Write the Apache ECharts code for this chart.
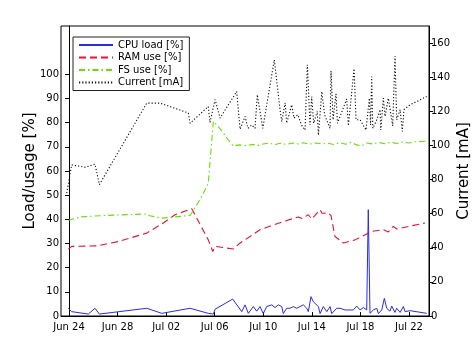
<!DOCTYPE html>
<html><head><meta charset="utf-8">
<script src="https://cdn.jsdelivr.net/npm/echarts@6/dist/echarts.min.js"></script>
<style>html,body{margin:0;padding:0;background:#fff}#c{width:474px;height:355px}</style>
</head><body><div id="c"></div>
<script>
// x values are days since Jun 24
var tickDays = [0, 4, 8, 12, 16, 20, 24, 28];
var tickLabels = ["Jun 24", "Jun 28", "Jul 02", "Jul 06", "Jul 10", "Jul 14", "Jul 18", "Jul 22"];
var leftTicks = [0, 10, 20, 30, 40, 50, 60, 70, 80, 90, 100];
var rightTicks = [0, 20, 40, 60, 80, 100, 120, 140, 160];

var cpuDays = [-0.06, 0.22, 1.59, 2.14, 2.5, 6.4, 7.64, 9.97, 11.47, 11.61, 11.89, 12.03, 13.48, 14.23, 14.5, 14.77, 15.18, 15.46, 15.73, 16.0, 16.28, 16.7, 16.97, 17.24, 17.52, 17.65, 17.93, 18.2, 18.48, 18.76, 19.03, 19.3, 19.58, 19.71, 19.93, 20.12, 20.26, 20.54, 20.68, 20.95, 21.23, 21.5, 21.64, 22.05, 22.32, 22.74, 23.15, 23.42, 23.7, 23.97, 24.24, 24.52, 24.65, 24.79, 25.07, 25.35, 25.48, 25.76, 25.97, 26.17, 26.44, 26.58, 26.85, 26.99, 27.27, 27.54, 27.68, 28.09, 29.46];
var cpuLoad = [3.2, 1.8, 0.8, 3.2, 0.8, 3.2, 1.1, 3.2, 1.1, 1.8, 0.8, 2.8, 7.0, 1.8, 4.6, 1.1, 3.9, 2.0, 3.9, 1.0, 3.9, 4.6, 3.5, 4.6, 3.9, 1.0, 3.2, 3.2, 3.9, 3.2, 3.9, 4.6, 3.2, 1.8, 8.0, 5.9, 5.2, 3.9, 1.0, 3.9, 1.8, 3.9, 1.0, 3.2, 3.2, 2.5, 2.5, 2.5, 4.1, 2.5, 3.5, 2.5, 44.0, 1.1, 2.5, 3.2, 1.0, 2.5, 7.3, 3.2, 2.0, 4.1, 1.5, 3.2, 1.5, 3.9, 1.8, 2.2, 1.1];

var ramDays = [-0.06, 0.22, 2.28, 4.06, 6.4, 7.77, 8.73, 10.11, 11.47, 11.84, 11.89, 12.03, 13.53, 14.09, 14.91, 15.73, 17.65, 18.89, 19.17, 19.71, 19.99, 20.68, 20.84, 21.36, 21.58, 21.91, 22.6, 23.56, 24.93, 25.89, 26.3, 26.71, 26.99, 29.32];
var ramUse = [27.7, 28.8, 29.0, 30.8, 34.3, 38.5, 41.9, 44.4, 31.5, 26.7, 27.5, 28.8, 27.7, 30.2, 32.9, 35.7, 39.1, 41.0, 40.3, 41.9, 40.1, 44.0, 42.5, 42.6, 41.5, 32.9, 30.2, 31.5, 35.0, 35.7, 34.8, 37.1, 36.0, 38.5];

var fsDays = [-0.06, 0.91, 2.55, 6.26, 6.67, 7.64, 8.73, 9.97, 10.87, 11.47, 11.89, 12.52, 13.1, 13.53, 14.0, 14.6, 15.1, 15.6, 16.0, 16.5, 16.9, 17.4, 17.9, 18.4, 18.9, 19.3, 19.8, 20.3, 20.8, 21.3, 21.8, 22.3, 22.8, 23.2, 23.7, 24.1, 24.5, 25.0, 25.5, 26.0, 26.5, 27.0, 27.5, 28.0, 28.5, 29.0, 29.4];
var fsUse = [39.5, 41.0, 41.5, 42.2, 41.5, 40.5, 41.0, 41.6, 48.8, 55.0, 80.6, 77.0, 73.0, 70.3, 70.8, 70.5, 71.0, 70.6, 71.2, 71.6, 70.9, 71.5, 71.0, 71.6, 71.2, 71.7, 71.1, 71.6, 71.2, 71.5, 71.0, 71.7, 71.1, 71.9, 70.8, 70.4, 71.6, 71.2, 71.8, 71.3, 71.9, 71.4, 72.0, 71.6, 72.1, 72.2, 72.3];

var curDays = [-0.19, 0.22, 1.32, 2.14, 2.5, 6.4, 7.5, 9.83, 9.97, 11.47, 11.61, 12.03, 12.44, 13.81, 14.09, 14.5, 14.74, 15.05, 15.32, 15.51, 15.96, 16.91, 17.38, 17.52, 17.8, 17.93, 18.34, 18.53, 18.84, 19.15, 19.44, 19.63, 19.85, 19.99, 20.15, 20.45, 20.54, 20.82, 21.05, 21.5, 21.58, 21.75, 21.99, 22.11, 22.87, 23.01, 23.48, 23.64, 23.97, 24.46, 24.74, 24.84, 24.93, 25.02, 25.35, 25.62, 25.68, 25.89, 26.03, 26.3, 26.66, 26.85, 26.99, 27.27, 27.45, 27.59, 28.09, 29.46];
var curMA = [72, 88.6, 87.2, 89, 77, 124.8, 124.8, 119, 113, 122.8, 113.5, 126.8, 116, 131.6, 109.5, 117, 110, 112, 110, 129.7, 110, 150.2, 120.9, 114, 125, 113, 123.8, 116, 118, 112, 109, 147.3, 112, 128.7, 113, 120, 106, 131.6, 118, 110, 143.8, 115, 130.3, 113, 127.2, 111.5, 145, 115, 115, 109, 127.7, 112, 140.4, 110, 115, 121, 109, 127.7, 117, 127.7, 111.5, 152.3, 115, 121, 108.2, 121, 123.8, 128.7];

function pairs(xs, ys) { return xs.map(function (x, i) { return [x, ys[i]]; }); }

var font = 'DejaVu Sans';
var chart = echarts.init(document.getElementById('c'), null, { renderer: 'canvas' });
chart.setOption({
  animation: false,
  backgroundColor: '#fff',
  textStyle: { fontFamily: font, color: '#000' },
  grid: { left: 61, right: 45, top: 26, bottom: 39, show: true, borderColor: '#000', borderWidth: 1, outerBoundsMode: 'none' },
  legend: {
    orient: 'vertical', left: 73, top: 37,
    padding: [3, 6, 3, 5], itemGap: 2.5, itemWidth: 34, itemHeight: 10,
    backgroundColor: '#fff', borderColor: '#222', borderWidth: 1, borderRadius: 0,
    itemStyle: { opacity: 0 },
    textStyle: { fontFamily: font, fontSize: 10, color: '#000' },
    data: ['CPU load [%]', 'RAM use [%]', 'FS use [%]', 'Current [mA]']
  },
  xAxis: {
    type: 'value', min: -0.66, max: 29.65,
    axisLine: { show: true, onZero: false, lineStyle: { color: '#000', width: 1 } },
    axisTick: { show: true, inside: true, length: 4, customValues: tickDays, lineStyle: { color: '#000' } },
    axisLabel: { customValues: tickDays, fontSize: 10, color: '#000', fontFamily: font, margin: 6,
      formatter: function (v) { var i = tickDays.indexOf(Math.round(v)); return i >= 0 ? tickLabels[i] : ''; } },
    splitLine: { show: false }
  },
  yAxis: [{
    type: 'value', min: 0, max: 120, position: 'left',
    name: 'Load/usage [%]', nameLocation: 'middle', nameGap: 23, nameMoveOverlap: false,
    nameTextStyle: { fontSize: 15, fontFamily: font, color: '#000' },
    axisLine: { show: true, lineStyle: { color: '#000', width: 1 } },
    axisTick: { show: true, length: 4, customValues: leftTicks, lineStyle: { color: '#000' } },
    axisLabel: { customValues: leftTicks, fontSize: 10, color: '#000', fontFamily: font, margin: 2 },
    splitLine: { show: false }
  }, {
    type: 'value', min: 0, max: 170, position: 'right',
    name: 'Current [mA]', nameLocation: 'middle', nameGap: 28, nameRotate: 90, nameMoveOverlap: false,
    nameTextStyle: { fontSize: 15, fontFamily: font, color: '#000' },
    axisLine: { show: true, lineStyle: { color: '#000', width: 1 } },
    axisTick: { show: true, length: 4, customValues: rightTicks, lineStyle: { color: '#000' } },
    axisLabel: { customValues: rightTicks, fontSize: 10, color: '#000', fontFamily: font, margin: 2 },
    splitLine: { show: false }
  }],
  series: [{
    name: 'CPU load [%]', type: 'line', yAxisIndex: 0, symbol: 'none', z: 4,
    data: pairs(cpuDays, cpuLoad),
    lineStyle: { color: '#2a2aee', width: 1 }, itemStyle: { color: '#2a2aee' }
  }, {
    name: 'RAM use [%]', type: 'line', yAxisIndex: 0, symbol: 'none', z: 3,
    data: pairs(ramDays, ramUse),
    lineStyle: { color: '#ee1133', width: 1.1, type: [7, 4] }, itemStyle: { color: '#ee1133' }
  }, {
    name: 'FS use [%]', type: 'line', yAxisIndex: 0, symbol: 'none', z: 3,
    data: pairs(fsDays, fsUse),
    lineStyle: { color: '#66e000', width: 1.1, type: [6, 3, 1.5, 3] }, itemStyle: { color: '#66e000' }
  }, {
    name: 'Current [mA]', type: 'line', yAxisIndex: 1, symbol: 'none', z: 2,
    data: pairs(curDays, curMA),
    lineStyle: { color: '#111', width: 1.1, type: [1.2, 2] }, itemStyle: { color: '#111' }
  }]
});
</script></body></html>
